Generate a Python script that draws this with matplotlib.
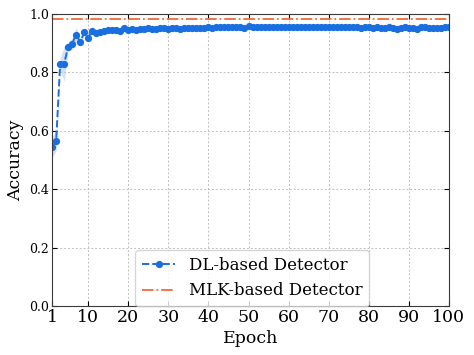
import numpy as np
import matplotlib
matplotlib.use("Agg")
import matplotlib.pyplot as plt

epochs = list(range(1, 101))
dl_acc = [
    0.545, 0.565, 0.829, 0.829, 0.888, 0.898, 0.929, 0.903, 0.937, 0.919,
    0.942, 0.934, 0.937, 0.941, 0.946, 0.944, 0.943, 0.940, 0.950, 0.946,
    0.947, 0.946, 0.948, 0.947, 0.951, 0.949, 0.947, 0.950, 0.952, 0.948,
    0.950, 0.951, 0.949, 0.952, 0.950, 0.953, 0.951, 0.952, 0.953, 0.954,
    0.953, 0.954, 0.955, 0.954, 0.955, 0.954, 0.955, 0.954, 0.953, 0.957,
    0.955, 0.954, 0.955, 0.956, 0.955, 0.955, 0.954, 0.955, 0.956, 0.955,
    0.956, 0.955, 0.955, 0.954, 0.955, 0.956, 0.955, 0.954, 0.955, 0.955,
    0.954, 0.955, 0.954, 0.955, 0.954, 0.955, 0.954, 0.953, 0.954, 0.954,
    0.953, 0.954, 0.953, 0.953, 0.954, 0.952, 0.949, 0.953, 0.954, 0.953,
    0.953, 0.948, 0.954, 0.956, 0.953, 0.950, 0.953, 0.953, 0.954, 0.954,
]
dl_std = [
    0.035, 0.035, 0.020, 0.060, 0.015, 0.020, 0.025, 0.012, 0.010, 0.010,
    0.008, 0.007, 0.006, 0.006, 0.005, 0.005, 0.005, 0.005, 0.004, 0.004,
] + [0.003] * 80
mlk_acc = 0.983

xticks = [1, 10, 20, 30, 40, 50, 60, 70, 80, 90, 100]
yticks = [0.0, 0.2, 0.4, 0.6, 0.8, 1.0]

plt.rcParams['font.family'] = ['DejaVu Serif']

fig = plt.figure(figsize=(4.74, 3.55), dpi=100)
ax = fig.add_axes([0.110, 0.138, 0.837, 0.823])

blue = '#1a6fe0'
orange = '#f26b38'
acc = np.array(dl_acc)
std = np.array(dl_std)
ax.fill_between(epochs, acc - std, acc + std, color=blue, alpha=0.2, linewidth=0)
ax.plot(epochs, dl_acc, '--o', color=blue, markersize=4.2, linewidth=1.4,
        label='DL-based Detector')
ax.axhline(mlk_acc, color=orange, linestyle='-.', linewidth=1.3,
           label='MLK-based Detector')

ax.set_xlim(1, 100)
ax.set_ylim(0, 1.0)
ax.set_xticks(xticks)
ax.set_yticks(yticks)
ax.set_yticklabels([f'{v:.1f}' for v in yticks])
ax.tick_params(axis='x', direction='in', top=True, labelsize=12.5, pad=2)
ax.tick_params(axis='y', direction='in', right=True, labelsize=9, pad=2)
ax.grid(True, linestyle=(0, (2, 2)), color='#c0c0c0', linewidth=0.7)
for s in ax.spines.values():
    s.set_color('#3a3a3a')
ax.set_xlabel('Epoch', fontsize=12.5, labelpad=3)
ax.set_ylabel('Accuracy', fontsize=12.5, labelpad=4)
ax.legend(loc='lower center', fontsize=12, handlelength=2.0, framealpha=0.8,
          borderaxespad=0.0, bbox_to_anchor=(0.504, 0.0))

fig.savefig('out.png', dpi=100)
